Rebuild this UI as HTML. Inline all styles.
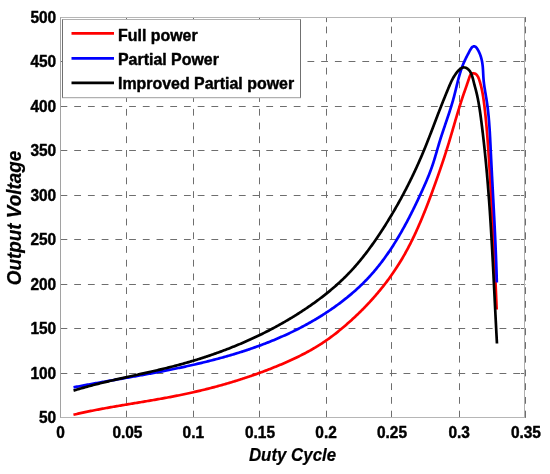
<!DOCTYPE html><html><head><meta charset="utf-8"><style>html,body{margin:0;padding:0;background:#fff;}svg{display:block;}text{font-family:"Liberation Sans",Arial,Helvetica,sans-serif;font-weight:bold;fill:#000;stroke:#000;stroke-width:0.45px;stroke-linejoin:round;}</style></head><body>
<svg width="550" height="474" viewBox="0 0 550 474">
<rect x="0" y="0" width="550" height="474" fill="#fff"/>
<path d="M126.50 417.5 L126.50 17.5 M193.50 417.5 L193.50 17.5 M259.50 417.5 L259.50 17.5 M326.50 417.5 L326.50 17.5 M391.50 417.5 L391.50 17.5 M459.50 417.5 L459.50 17.5 M525.50 417.5 L525.50 17.5 M60.5 373.50 L525.5 373.50 M60.5 328.50 L525.5 328.50 M60.5 284.50 L525.5 284.50 M60.5 239.50 L525.5 239.50 M60.5 195.50 L525.5 195.50 M60.5 150.50 L525.5 150.50 M60.5 106.50 L525.5 106.50 M60.5 61.50 L525.5 61.50" stroke="#6e6e6e" stroke-width="1" stroke-dasharray="6.8 6.92" fill="none"/>
<path d="M60.50 417.5 L60.50 412.85 M60.50 17.5 L60.50 22.15 M126.50 417.5 L126.50 412.85 M126.50 17.5 L126.50 22.15 M193.50 417.5 L193.50 412.85 M193.50 17.5 L193.50 22.15 M259.50 417.5 L259.50 412.85 M259.50 17.5 L259.50 22.15 M326.50 417.5 L326.50 412.85 M326.50 17.5 L326.50 22.15 M391.50 417.5 L391.50 412.85 M391.50 17.5 L391.50 22.15 M459.50 417.5 L459.50 412.85 M459.50 17.5 L459.50 22.15 M525.50 417.5 L525.50 412.85 M525.50 17.5 L525.50 22.15 M60.5 417.50 L65.15 417.50 M525.5 417.50 L520.85 417.50 M60.5 373.50 L65.15 373.50 M525.5 373.50 L520.85 373.50 M60.5 328.50 L65.15 328.50 M525.5 328.50 L520.85 328.50 M60.5 284.50 L65.15 284.50 M525.5 284.50 L520.85 284.50 M60.5 239.50 L65.15 239.50 M525.5 239.50 L520.85 239.50 M60.5 195.50 L65.15 195.50 M525.5 195.50 L520.85 195.50 M60.5 150.50 L65.15 150.50 M525.5 150.50 L520.85 150.50 M60.5 106.50 L65.15 106.50 M525.5 106.50 L520.85 106.50 M60.5 61.50 L65.15 61.50 M525.5 61.50 L520.85 61.50 M60.5 17.50 L65.15 17.50 M525.5 17.50 L520.85 17.50" stroke="#6e6e6e" stroke-width="1" fill="none"/>
<path d="M60.0 17.5 L525.0 17.5 M60.0 417.5 L525.0 417.5" fill="none" stroke="#b6b6b6" stroke-width="1.2"/>
<path d="M60.5 17.5 L60.5 417.5" fill="none" stroke="#a2a2a2" stroke-width="1"/>
<path d="M524.5 17.5 L524.5 417.5" fill="none" stroke="#b0b0b0" stroke-width="1"/>
<path d="M73.45 414.77 L74.61 414.49 L75.78 414.22 L76.94 413.96 L78.11 413.69 L79.28 413.43 L80.45 413.17 L81.62 412.91 L82.79 412.66 L83.96 412.41 L85.13 412.16 L86.30 411.91 L87.47 411.67 L88.64 411.42 L89.81 411.18 L90.99 410.95 L92.16 410.71 L93.33 410.48 L94.51 410.25 L95.68 410.02 L96.85 409.79 L98.03 409.57 L99.21 409.34 L100.38 409.12 L101.56 408.90 L102.73 408.68 L103.91 408.47 L105.09 408.25 L106.27 408.04 L107.44 407.82 L108.62 407.61 L109.80 407.40 L110.98 407.19 L112.16 406.99 L113.33 406.78 L114.51 406.57 L115.69 406.37 L116.87 406.17 L118.05 405.96 L119.23 405.76 L120.41 405.56 L121.59 405.36 L122.77 405.16 L123.95 404.96 L125.13 404.77 L126.31 404.57 L127.50 404.37 L128.68 404.17 L129.86 403.98 L131.04 403.78 L132.22 403.58 L133.40 403.39 L134.58 403.19 L135.76 403.00 L136.94 402.80 L138.12 402.60 L139.31 402.41 L140.49 402.21 L141.67 402.01 L142.85 401.82 L144.03 401.62 L145.21 401.42 L146.39 401.22 L147.57 401.02 L148.75 400.82 L149.93 400.62 L151.11 400.42 L152.29 400.22 L153.47 400.02 L154.65 399.81 L155.83 399.61 L157.01 399.40 L158.19 399.19 L159.37 398.99 L160.55 398.78 L161.73 398.57 L162.91 398.36 L164.08 398.14 L165.26 397.93 L166.44 397.71 L167.62 397.49 L168.79 397.27 L169.97 397.05 L171.15 396.83 L172.32 396.61 L173.50 396.38 L174.67 396.15 L175.85 395.92 L177.02 395.69 L178.20 395.46 L179.37 395.22 L180.54 394.98 L181.72 394.74 L182.89 394.50 L184.06 394.25 L185.23 394.01 L186.41 393.76 L187.58 393.50 L188.75 393.25 L189.92 392.99 L191.08 392.73 L192.25 392.47 L193.42 392.21 L194.59 391.94 L195.76 391.68 L196.92 391.41 L198.09 391.13 L199.26 390.86 L200.42 390.58 L201.59 390.30 L202.75 390.02 L203.91 389.73 L205.08 389.45 L206.24 389.16 L207.40 388.87 L208.56 388.57 L209.72 388.28 L210.88 387.98 L212.04 387.68 L213.20 387.37 L214.36 387.07 L215.51 386.76 L216.67 386.45 L217.83 386.13 L218.98 385.82 L220.14 385.50 L221.29 385.18 L222.44 384.85 L223.60 384.53 L224.75 384.20 L225.90 383.87 L227.05 383.53 L228.20 383.20 L229.35 382.86 L230.50 382.52 L231.64 382.17 L232.79 381.83 L233.94 381.48 L235.08 381.13 L236.23 380.77 L237.37 380.42 L238.51 380.06 L239.65 379.69 L240.80 379.33 L241.94 378.96 L243.08 378.59 L244.21 378.22 L245.35 377.84 L246.49 377.47 L247.63 377.09 L248.76 376.70 L249.89 376.32 L251.03 375.93 L252.16 375.54 L253.29 375.14 L254.42 374.74 L255.55 374.35 L256.68 373.94 L257.81 373.54 L258.94 373.13 L260.06 372.72 L261.19 372.31 L262.31 371.89 L263.44 371.47 L264.56 371.05 L265.68 370.62 L266.80 370.20 L267.92 369.77 L269.04 369.33 L270.15 368.90 L271.27 368.46 L272.38 368.02 L273.50 367.57 L274.61 367.12 L275.72 366.67 L276.83 366.22 L277.94 365.76 L279.05 365.31 L280.16 364.84 L281.27 364.38 L282.37 363.91 L283.48 363.44 L284.58 362.96 L285.68 362.48 L286.78 362.00 L287.87 361.52 L288.97 361.03 L290.06 360.53 L291.15 360.04 L292.24 359.53 L293.33 359.03 L294.42 358.52 L295.50 358.01 L296.58 357.49 L297.66 356.97 L298.74 356.44 L299.81 355.91 L300.88 355.37 L301.95 354.83 L303.01 354.28 L304.08 353.73 L305.14 353.18 L306.19 352.62 L307.25 352.05 L308.30 351.48 L309.35 350.91 L310.39 350.32 L311.43 349.74 L312.47 349.14 L313.51 348.54 L314.54 347.94 L315.57 347.33 L316.59 346.71 L317.61 346.09 L318.63 345.46 L319.64 344.83 L320.65 344.19 L321.65 343.54 L322.65 342.89 L323.65 342.23 L324.64 341.56 L325.63 340.89 L326.61 340.21 L327.59 339.52 L328.57 338.83 L329.54 338.13 L330.51 337.42 L331.47 336.71 L332.43 336.00 L333.38 335.27 L334.33 334.54 L335.28 333.81 L336.22 333.07 L337.16 332.33 L338.09 331.58 L339.02 330.82 L339.95 330.07 L340.87 329.30 L341.79 328.54 L342.71 327.77 L343.62 326.99 L344.53 326.22 L345.44 325.44 L346.34 324.65 L347.24 323.86 L348.13 323.07 L349.03 322.28 L349.92 321.49 L350.80 320.69 L351.68 319.89 L352.56 319.08 L353.44 318.27 L354.31 317.47 L355.18 316.65 L356.05 315.84 L356.91 315.02 L357.77 314.19 L358.63 313.37 L359.48 312.54 L360.33 311.70 L361.18 310.87 L362.02 310.03 L362.86 309.18 L363.70 308.34 L364.54 307.48 L365.37 306.63 L366.19 305.77 L367.02 304.91 L367.84 304.04 L368.66 303.17 L369.47 302.29 L370.28 301.41 L371.09 300.53 L371.89 299.64 L372.69 298.75 L373.49 297.85 L374.28 296.95 L375.07 296.05 L375.86 295.14 L376.64 294.23 L377.41 293.32 L378.19 292.40 L378.96 291.48 L379.72 290.55 L380.48 289.62 L381.24 288.69 L381.99 287.76 L382.74 286.82 L383.49 285.87 L384.23 284.93 L384.96 283.98 L385.70 283.02 L386.42 282.07 L387.15 281.11 L387.86 280.15 L388.58 279.18 L389.29 278.21 L389.99 277.24 L390.69 276.26 L391.38 275.28 L392.07 274.30 L392.76 273.31 L393.44 272.33 L394.11 271.34 L394.78 270.34 L395.45 269.34 L396.11 268.34 L396.76 267.34 L397.41 266.34 L398.05 265.33 L398.69 264.32 L399.32 263.30 L399.95 262.29 L400.57 261.27 L401.19 260.24 L401.80 259.22 L402.41 258.19 L403.01 257.16 L403.60 256.13 L404.19 255.09 L404.78 254.06 L405.36 253.02 L405.93 251.97 L406.51 250.93 L407.07 249.88 L407.63 248.83 L408.19 247.78 L408.74 246.72 L409.29 245.67 L409.84 244.61 L410.38 243.55 L410.91 242.48 L411.44 241.42 L411.97 240.35 L412.50 239.28 L413.02 238.20 L413.53 237.13 L414.05 236.05 L414.56 234.97 L415.06 233.89 L415.56 232.81 L416.06 231.72 L416.56 230.63 L417.05 229.54 L417.54 228.45 L418.03 227.36 L418.51 226.26 L418.99 225.16 L419.47 224.06 L419.94 222.96 L420.42 221.86 L420.89 220.76 L421.35 219.65 L421.82 218.54 L422.28 217.43 L422.74 216.32 L423.19 215.21 L423.65 214.10 L424.10 212.98 L424.55 211.87 L424.99 210.75 L425.44 209.63 L425.88 208.52 L426.32 207.40 L426.76 206.28 L427.19 205.16 L427.63 204.03 L428.06 202.91 L428.49 201.79 L428.92 200.66 L429.34 199.54 L429.77 198.41 L430.19 197.29 L430.61 196.16 L431.03 195.04 L431.45 193.91 L431.86 192.79 L432.28 191.66 L432.69 190.53 L433.10 189.41 L433.51 188.28 L433.92 187.15 L434.33 186.03 L434.73 184.90 L435.14 183.78 L435.54 182.65 L435.94 181.52 L436.34 180.40 L436.74 179.27 L437.14 178.15 L437.54 177.02 L437.93 175.90 L438.33 174.77 L438.72 173.64 L439.11 172.52 L439.50 171.39 L439.89 170.26 L440.28 169.14 L440.66 168.01 L441.05 166.88 L441.43 165.75 L441.81 164.62 L442.19 163.50 L442.57 162.37 L442.95 161.24 L443.32 160.10 L443.69 158.97 L444.07 157.84 L444.44 156.71 L444.81 155.57 L445.17 154.44 L445.54 153.30 L445.90 152.17 L446.27 151.03 L446.63 149.89 L446.99 148.75 L447.34 147.61 L447.70 146.47 L448.05 145.33 L448.41 144.18 L448.76 143.04 L449.10 141.89 L449.45 140.74 L449.80 139.59 L450.14 138.45 L450.48 137.29 L450.83 136.14 L451.17 134.99 L451.51 133.84 L451.84 132.68 L452.18 131.53 L452.52 130.38 L452.86 129.22 L453.19 128.07 L453.53 126.91 L453.86 125.76 L454.20 124.61 L454.53 123.45 L454.87 122.30 L455.21 121.15 L455.54 119.99 L455.88 118.84 L456.22 117.69 L456.56 116.54 L456.90 115.39 L457.24 114.25 L457.58 113.10 L457.93 111.96 L458.27 110.81 L458.62 109.67 L458.97 108.53 L459.32 107.40 L459.67 106.26 L460.02 105.13 L460.38 104.00 L460.74 102.87 L461.10 101.74 L461.46 100.61 L461.83 99.49 L462.20 98.37 L462.57 97.26 L462.95 96.14 L463.33 95.03 L463.71 93.92 L464.09 92.81 L464.47 91.70 L464.86 90.58 L465.25 89.47 L465.64 88.34 L466.04 87.22 L466.43 86.08 L466.82 84.95 L467.22 83.80 L467.62 82.64 L468.01 81.47 L468.41 80.30 L468.81 79.11 L469.21 77.91 L469.62 76.70 L470.10 75.57 L470.73 74.58 L471.55 73.83 L472.53 73.36 L473.59 73.22 L474.68 73.46 L475.72 74.02 L476.65 74.82 L477.43 75.81 L478.08 76.92 L478.61 78.11 L479.07 79.34 L479.48 80.56 L479.85 81.74 L480.19 82.89 L480.51 84.03 L480.81 85.15 L481.09 86.27 L481.36 87.39 L481.62 88.52 L481.86 89.66 L482.10 90.81 L482.32 91.96 L482.54 93.12 L482.75 94.29 L482.94 95.46 L483.13 96.63 L483.32 97.81 L483.49 98.99 L483.66 100.18 L483.82 101.37 L483.98 102.56 L484.13 103.75 L484.28 104.95 L484.43 106.14 L484.57 107.34 L484.71 108.53 L484.84 109.73 L484.98 110.93 L485.11 112.12 L485.24 113.32 L485.36 114.52 L485.49 115.71 L485.61 116.91 L485.73 118.10 L485.85 119.30 L485.96 120.49 L486.08 121.69 L486.19 122.88 L486.30 124.08 L486.41 125.27 L486.52 126.47 L486.62 127.66 L486.73 128.86 L486.83 130.05 L486.93 131.25 L487.03 132.44 L487.12 133.64 L487.22 134.83 L487.32 136.03 L487.41 137.22 L487.50 138.41 L487.59 139.61 L487.68 140.80 L487.77 142.00 L487.86 143.19 L487.94 144.39 L488.03 145.58 L488.11 146.77 L488.20 147.97 L488.28 149.16 L488.36 150.36 L488.44 151.55 L488.52 152.75 L488.60 153.94 L488.68 155.14 L488.76 156.33 L488.84 157.52 L488.91 158.72 L488.99 159.91 L489.07 161.11 L489.14 162.30 L489.22 163.50 L489.29 164.69 L489.37 165.89 L489.44 167.08 L489.52 168.28 L489.59 169.47 L489.67 170.67 L489.74 171.86 L489.81 173.06 L489.89 174.25 L489.96 175.45 L490.03 176.64 L490.10 177.84 L490.18 179.04 L490.25 180.23 L490.32 181.43 L490.39 182.62 L490.46 183.82 L490.53 185.01 L490.60 186.21 L490.67 187.41 L490.75 188.60 L490.81 189.80 L490.88 190.99 L490.95 192.19 L491.02 193.39 L491.09 194.58 L491.16 195.78 L491.23 196.98 L491.30 198.17 L491.37 199.37 L491.43 200.56 L491.50 201.76 L491.57 202.96 L491.63 204.15 L491.70 205.35 L491.77 206.55 L491.83 207.74 L491.90 208.94 L491.97 210.14 L492.03 211.33 L492.10 212.53 L492.16 213.73 L492.23 214.93 L492.29 216.12 L492.35 217.32 L492.42 218.52 L492.48 219.71 L492.55 220.91 L492.61 222.11 L492.67 223.30 L492.74 224.50 L492.80 225.70 L492.86 226.90 L492.92 228.09 L492.98 229.29 L493.05 230.49 L493.11 231.68 L493.17 232.88 L493.23 234.08 L493.29 235.28 L493.35 236.47 L493.41 237.67 L493.47 238.87 L493.53 240.06 L493.59 241.26 L493.65 242.46 L493.71 243.66 L493.77 244.85 L493.83 246.05 L493.89 247.25 L493.95 248.45 L494.00 249.64 L494.06 250.84 L494.12 252.04 L494.18 253.24 L494.24 254.43 L494.29 255.63 L494.35 256.83 L494.41 258.02 L494.46 259.22 L494.52 260.42 L494.58 261.62 L494.63 262.81 L494.69 264.01 L494.74 265.21 L494.80 266.41 L494.85 267.60 L494.91 268.80 L494.96 270.00 L495.02 271.19 L495.07 272.39 L495.13 273.59 L495.18 274.79 L495.23 275.98 L495.29 277.18 L495.34 278.38 L495.39 279.57 L495.45 280.77 L495.50 281.97 L495.55 283.16 L495.60 284.36 L495.66 285.56 L495.71 286.76 L495.76 287.95 L495.81 289.15 L495.86 290.35 L495.91 291.54 L495.97 292.74 L496.02 293.94 L496.07 295.13 L496.12 296.33 L496.17 297.53 L496.22 298.72 L496.27 299.92 L496.32 301.11 L496.37 302.31 L496.42 303.51 L496.47 304.70 L496.51 305.90 L496.56 307.10 L496.61 308.29 L496.66 309.49" stroke="#ff0000" stroke-width="2.7" fill="none" stroke-linejoin="round" stroke-linecap="butt"/>
<path d="M73.53 387.37 L74.71 387.14 L75.89 386.92 L77.07 386.69 L78.25 386.46 L79.43 386.24 L80.61 386.02 L81.79 385.79 L82.97 385.57 L84.15 385.35 L85.33 385.13 L86.51 384.91 L87.69 384.70 L88.86 384.48 L90.04 384.26 L91.22 384.05 L92.40 383.83 L93.58 383.62 L94.76 383.40 L95.94 383.19 L97.12 382.98 L98.30 382.77 L99.48 382.56 L100.66 382.35 L101.84 382.13 L103.02 381.93 L104.20 381.72 L105.38 381.51 L106.56 381.30 L107.74 381.09 L108.92 380.88 L110.10 380.67 L111.28 380.47 L112.46 380.26 L113.64 380.05 L114.82 379.85 L116.00 379.64 L117.17 379.43 L118.35 379.23 L119.53 379.02 L120.71 378.81 L121.89 378.60 L123.07 378.40 L124.25 378.19 L125.43 377.98 L126.61 377.78 L127.78 377.57 L128.96 377.36 L130.14 377.15 L131.32 376.95 L132.50 376.74 L133.68 376.53 L134.85 376.32 L136.03 376.11 L137.21 375.90 L138.39 375.69 L139.57 375.48 L140.74 375.27 L141.92 375.06 L143.10 374.84 L144.27 374.63 L145.45 374.42 L146.63 374.20 L147.81 373.99 L148.98 373.77 L150.16 373.56 L151.33 373.34 L152.51 373.12 L153.69 372.90 L154.86 372.68 L156.04 372.46 L157.21 372.24 L158.39 372.02 L159.57 371.79 L160.74 371.57 L161.92 371.34 L163.09 371.12 L164.26 370.89 L165.44 370.66 L166.61 370.43 L167.79 370.20 L168.96 369.96 L170.13 369.73 L171.31 369.49 L172.48 369.26 L173.65 369.02 L174.83 368.78 L176.00 368.54 L177.17 368.30 L178.34 368.05 L179.52 367.81 L180.69 367.56 L181.86 367.31 L183.03 367.06 L184.20 366.81 L185.37 366.56 L186.54 366.30 L187.71 366.05 L188.89 365.79 L190.06 365.53 L191.22 365.27 L192.39 365.00 L193.56 364.74 L194.73 364.47 L195.90 364.20 L197.07 363.93 L198.24 363.66 L199.40 363.38 L200.57 363.10 L201.74 362.83 L202.90 362.54 L204.07 362.26 L205.24 361.98 L206.40 361.69 L207.57 361.40 L208.73 361.11 L209.89 360.81 L211.06 360.52 L212.22 360.22 L213.38 359.92 L214.54 359.61 L215.70 359.31 L216.86 359.00 L218.02 358.69 L219.18 358.38 L220.34 358.06 L221.49 357.75 L222.65 357.43 L223.81 357.10 L224.96 356.78 L226.11 356.45 L227.27 356.12 L228.42 355.79 L229.57 355.46 L230.72 355.12 L231.87 354.78 L233.02 354.44 L234.17 354.09 L235.32 353.74 L236.46 353.39 L237.61 353.04 L238.75 352.68 L239.90 352.32 L241.04 351.96 L242.18 351.60 L243.32 351.23 L244.46 350.86 L245.60 350.49 L246.73 350.11 L247.87 349.73 L249.00 349.35 L250.14 348.96 L251.27 348.58 L252.40 348.18 L253.53 347.79 L254.66 347.39 L255.79 346.99 L256.91 346.59 L258.04 346.18 L259.16 345.77 L260.28 345.36 L261.40 344.94 L262.52 344.52 L263.64 344.10 L264.76 343.67 L265.87 343.24 L266.99 342.81 L268.10 342.37 L269.21 341.93 L270.32 341.49 L271.43 341.04 L272.53 340.59 L273.64 340.14 L274.74 339.68 L275.84 339.22 L276.94 338.76 L278.04 338.29 L279.14 337.82 L280.23 337.34 L281.32 336.86 L282.42 336.38 L283.51 335.89 L284.59 335.40 L285.68 334.91 L286.77 334.41 L287.85 333.91 L288.93 333.41 L290.01 332.90 L291.09 332.39 L292.16 331.87 L293.24 331.35 L294.31 330.82 L295.38 330.29 L296.45 329.76 L297.51 329.23 L298.58 328.69 L299.64 328.14 L300.70 327.59 L301.76 327.04 L302.81 326.48 L303.87 325.92 L304.92 325.36 L305.97 324.79 L307.02 324.21 L308.06 323.64 L309.11 323.05 L310.15 322.47 L311.19 321.88 L312.23 321.28 L313.26 320.68 L314.29 320.08 L315.32 319.47 L316.35 318.86 L317.38 318.24 L318.40 317.62 L319.42 316.99 L320.44 316.36 L321.45 315.73 L322.47 315.09 L323.48 314.45 L324.48 313.80 L325.49 313.15 L326.49 312.49 L327.49 311.83 L328.49 311.17 L329.48 310.50 L330.48 309.82 L331.46 309.15 L332.45 308.46 L333.43 307.78 L334.41 307.08 L335.39 306.39 L336.36 305.69 L337.34 304.98 L338.30 304.27 L339.27 303.56 L340.23 302.84 L341.19 302.12 L342.14 301.39 L343.10 300.66 L344.04 299.92 L344.99 299.18 L345.93 298.43 L346.86 297.68 L347.80 296.93 L348.73 296.17 L349.65 295.40 L350.57 294.63 L351.49 293.86 L352.40 293.08 L353.31 292.30 L354.21 291.51 L355.11 290.71 L356.00 289.92 L356.89 289.11 L357.77 288.31 L358.65 287.49 L359.53 286.68 L360.40 285.85 L361.26 285.03 L362.12 284.19 L362.97 283.36 L363.82 282.51 L364.66 281.67 L365.50 280.81 L366.33 279.96 L367.16 279.10 L367.97 278.23 L368.79 277.36 L369.60 276.48 L370.40 275.60 L371.20 274.71 L371.99 273.82 L372.77 272.92 L373.55 272.02 L374.33 271.12 L375.10 270.21 L375.86 269.29 L376.62 268.37 L377.37 267.45 L378.12 266.52 L378.86 265.59 L379.60 264.65 L380.33 263.71 L381.06 262.77 L381.79 261.82 L382.50 260.87 L383.22 259.91 L383.93 258.95 L384.63 257.99 L385.33 257.02 L386.02 256.05 L386.71 255.08 L387.40 254.10 L388.08 253.12 L388.75 252.13 L389.43 251.14 L390.09 250.15 L390.76 249.16 L391.42 248.16 L392.07 247.16 L392.72 246.15 L393.37 245.15 L394.01 244.14 L394.65 243.12 L395.28 242.11 L395.91 241.09 L396.54 240.07 L397.16 239.04 L397.78 238.01 L398.39 236.98 L399.00 235.95 L399.61 234.92 L400.22 233.88 L400.82 232.84 L401.41 231.80 L402.01 230.76 L402.60 229.71 L403.18 228.66 L403.77 227.61 L404.35 226.56 L404.92 225.51 L405.50 224.45 L406.07 223.39 L406.63 222.33 L407.20 221.27 L407.76 220.21 L408.32 219.14 L408.87 218.08 L409.42 217.01 L409.97 215.94 L410.52 214.87 L411.07 213.80 L411.61 212.72 L412.15 211.65 L412.68 210.57 L413.22 209.50 L413.75 208.42 L414.28 207.34 L414.80 206.26 L415.33 205.18 L415.85 204.10 L416.37 203.02 L416.89 201.93 L417.40 200.85 L417.92 199.77 L418.43 198.68 L418.94 197.60 L419.44 196.51 L419.95 195.43 L420.45 194.34 L420.95 193.26 L421.45 192.17 L421.95 191.08 L422.45 190.00 L422.94 188.91 L423.43 187.82 L423.92 186.73 L424.40 185.64 L424.89 184.55 L425.36 183.46 L425.84 182.36 L426.31 181.27 L426.77 180.17 L427.23 179.07 L427.69 177.97 L428.14 176.87 L428.59 175.77 L429.03 174.66 L429.46 173.56 L429.89 172.45 L430.32 171.33 L430.73 170.22 L431.14 169.10 L431.55 167.98 L431.94 166.86 L432.33 165.73 L432.72 164.60 L433.09 163.47 L433.46 162.33 L433.82 161.20 L434.18 160.06 L434.53 158.91 L434.88 157.77 L435.22 156.62 L435.56 155.48 L435.90 154.33 L436.24 153.18 L436.57 152.03 L436.90 150.88 L437.24 149.73 L437.57 148.58 L437.91 147.43 L438.24 146.28 L438.58 145.13 L438.92 143.99 L439.26 142.84 L439.61 141.70 L439.96 140.55 L440.32 139.41 L440.68 138.27 L441.04 137.14 L441.41 136.00 L441.78 134.86 L442.15 133.73 L442.53 132.60 L442.90 131.46 L443.28 130.33 L443.66 129.20 L444.04 128.07 L444.43 126.94 L444.81 125.81 L445.19 124.68 L445.58 123.55 L445.96 122.42 L446.35 121.29 L446.73 120.16 L447.11 119.03 L447.49 117.90 L447.87 116.76 L448.25 115.63 L448.62 114.50 L449.00 113.36 L449.37 112.22 L449.74 111.09 L450.10 109.95 L450.46 108.81 L450.82 107.66 L451.18 106.52 L451.53 105.37 L451.87 104.22 L452.21 103.07 L452.55 101.92 L452.88 100.77 L453.20 99.61 L453.52 98.45 L453.84 97.29 L454.14 96.12 L454.45 94.95 L454.74 93.78 L455.04 92.61 L455.33 91.44 L455.61 90.27 L455.90 89.09 L456.18 87.92 L456.47 86.75 L456.75 85.58 L457.04 84.41 L457.33 83.24 L457.62 82.07 L457.91 80.91 L458.21 79.75 L458.51 78.59 L458.82 77.44 L459.14 76.29 L459.46 75.15 L459.79 74.01 L460.13 72.88 L460.48 71.75 L460.84 70.63 L461.20 69.52 L461.59 68.41 L461.98 67.32 L462.38 66.23 L462.80 65.14 L463.24 64.07 L463.69 63.00 L464.15 61.94 L464.63 60.88 L465.12 59.82 L465.64 58.75 L466.16 57.67 L466.70 56.59 L467.26 55.50 L467.84 54.39 L468.43 53.26 L469.04 52.11 L469.67 50.94 L470.32 49.76 L471.00 48.62 L471.75 47.62 L472.58 46.86 L473.47 46.41 L474.39 46.33 L475.29 46.65 L476.12 47.31 L476.86 48.22 L477.54 49.27 L478.16 50.35 L478.74 51.45 L479.28 52.57 L479.77 53.70 L480.22 54.83 L480.62 55.98 L480.99 57.14 L481.32 58.30 L481.61 59.46 L481.87 60.63 L482.09 61.80 L482.29 62.96 L482.46 64.13 L482.60 65.30 L482.72 66.47 L482.83 67.64 L482.92 68.81 L483.00 69.98 L483.07 71.15 L483.13 72.33 L483.19 73.50 L483.25 74.68 L483.31 75.85 L483.38 77.03 L483.46 78.20 L483.55 79.38 L483.65 80.56 L483.77 81.74 L483.91 82.92 L484.05 84.10 L484.21 85.28 L484.38 86.47 L484.55 87.65 L484.74 88.83 L484.93 90.02 L485.12 91.20 L485.32 92.39 L485.52 93.57 L485.72 94.76 L485.92 95.95 L486.12 97.14 L486.32 98.32 L486.51 99.51 L486.69 100.70 L486.87 101.89 L487.05 103.08 L487.21 104.27 L487.37 105.46 L487.53 106.65 L487.68 107.84 L487.82 109.03 L487.96 110.22 L488.10 111.41 L488.23 112.61 L488.35 113.80 L488.47 114.99 L488.59 116.18 L488.70 117.38 L488.81 118.57 L488.91 119.76 L489.01 120.96 L489.11 122.15 L489.20 123.34 L489.29 124.54 L489.37 125.73 L489.46 126.93 L489.54 128.12 L489.62 129.31 L489.69 130.51 L489.76 131.70 L489.84 132.90 L489.90 134.10 L489.97 135.29 L490.04 136.49 L490.10 137.68 L490.16 138.88 L490.22 140.07 L490.28 141.27 L490.34 142.47 L490.40 143.66 L490.46 144.86 L490.52 146.05 L490.57 147.25 L490.63 148.45 L490.69 149.64 L490.75 150.84 L490.80 152.04 L490.86 153.23 L490.92 154.43 L490.98 155.62 L491.04 156.82 L491.10 158.02 L491.16 159.21 L491.22 160.41 L491.28 161.61 L491.34 162.80 L491.40 164.00 L491.46 165.20 L491.52 166.39 L491.58 167.59 L491.64 168.79 L491.70 169.98 L491.77 171.18 L491.83 172.37 L491.89 173.57 L491.95 174.77 L492.01 175.96 L492.08 177.16 L492.14 178.36 L492.20 179.55 L492.27 180.75 L492.33 181.95 L492.39 183.14 L492.46 184.34 L492.52 185.54 L492.58 186.73 L492.65 187.93 L492.71 189.13 L492.77 190.32 L492.84 191.52 L492.90 192.72 L492.96 193.91 L493.02 195.11 L493.09 196.31 L493.15 197.50 L493.21 198.70 L493.28 199.90 L493.34 201.09 L493.40 202.29 L493.47 203.49 L493.53 204.68 L493.59 205.88 L493.65 207.08 L493.72 208.28 L493.78 209.47 L493.84 210.67 L493.90 211.87 L493.96 213.06 L494.02 214.26 L494.08 215.46 L494.15 216.65 L494.21 217.85 L494.27 219.05 L494.33 220.24 L494.39 221.44 L494.45 222.64 L494.51 223.84 L494.56 225.03 L494.62 226.23 L494.68 227.43 L494.74 228.62 L494.80 229.82 L494.85 231.02 L494.91 232.21 L494.97 233.41 L495.02 234.61 L495.08 235.81 L495.13 237.00 L495.19 238.20 L495.24 239.40 L495.30 240.59 L495.35 241.79 L495.40 242.99 L495.46 244.18 L495.51 245.38 L495.56 246.58 L495.61 247.78 L495.66 248.97 L495.71 250.17 L495.76 251.37 L495.81 252.56 L495.86 253.76 L495.91 254.96 L495.96 256.16 L496.00 257.35 L496.05 258.55 L496.09 259.75 L496.14 260.95 L496.18 262.14 L496.23 263.34 L496.27 264.54 L496.31 265.73 L496.35 266.93 L496.40 268.13 L496.44 269.33 L496.48 270.52 L496.51 271.72 L496.55 272.92 L496.59 274.12 L496.63 275.31 L496.66 276.51 L496.70 277.71 L496.73 278.90 L496.77 280.10 L496.80 281.30 L496.83 282.50" stroke="#0000ff" stroke-width="2.7" fill="none" stroke-linejoin="round" stroke-linecap="butt"/>
<path d="M73.55 390.62 L74.69 390.27 L75.84 389.92 L76.99 389.58 L78.14 389.24 L79.29 388.90 L80.45 388.56 L81.60 388.23 L82.75 387.90 L83.91 387.58 L85.06 387.25 L86.22 386.93 L87.37 386.62 L88.53 386.30 L89.69 385.99 L90.85 385.68 L92.01 385.38 L93.17 385.07 L94.33 384.77 L95.49 384.47 L96.65 384.18 L97.81 383.88 L98.98 383.59 L100.14 383.30 L101.30 383.01 L102.47 382.73 L103.63 382.44 L104.80 382.16 L105.96 381.88 L107.13 381.60 L108.30 381.32 L109.46 381.05 L110.63 380.77 L111.80 380.50 L112.97 380.23 L114.13 379.96 L115.30 379.69 L116.47 379.42 L117.64 379.15 L118.81 378.89 L119.98 378.62 L121.15 378.36 L122.32 378.09 L123.49 377.83 L124.66 377.57 L125.83 377.31 L127.00 377.04 L128.17 376.78 L129.34 376.52 L130.51 376.26 L131.68 376.00 L132.85 375.74 L134.03 375.48 L135.20 375.22 L136.37 374.96 L137.54 374.70 L138.71 374.44 L139.88 374.18 L141.05 373.92 L142.22 373.66 L143.39 373.40 L144.56 373.14 L145.73 372.87 L146.90 372.61 L148.07 372.34 L149.24 372.08 L150.41 371.81 L151.58 371.55 L152.75 371.28 L153.92 371.01 L155.09 370.74 L156.26 370.47 L157.42 370.19 L158.59 369.92 L159.76 369.64 L160.92 369.37 L162.09 369.09 L163.26 368.81 L164.42 368.53 L165.59 368.24 L166.75 367.96 L167.92 367.67 L169.08 367.38 L170.24 367.09 L171.40 366.79 L172.57 366.50 L173.73 366.20 L174.89 365.90 L176.05 365.59 L177.21 365.29 L178.37 364.98 L179.53 364.67 L180.68 364.35 L181.84 364.04 L183.00 363.72 L184.15 363.40 L185.31 363.07 L186.46 362.75 L187.61 362.42 L188.77 362.08 L189.92 361.75 L191.07 361.41 L192.22 361.07 L193.37 360.72 L194.52 360.38 L195.67 360.03 L196.81 359.67 L197.96 359.32 L199.10 358.96 L200.25 358.60 L201.39 358.24 L202.53 357.87 L203.68 357.50 L204.82 357.13 L205.96 356.75 L207.09 356.37 L208.23 355.99 L209.37 355.61 L210.50 355.22 L211.64 354.83 L212.77 354.44 L213.91 354.04 L215.04 353.65 L216.17 353.25 L217.30 352.84 L218.43 352.43 L219.55 352.02 L220.68 351.61 L221.80 351.19 L222.93 350.78 L224.05 350.35 L225.17 349.93 L226.29 349.50 L227.41 349.07 L228.53 348.64 L229.65 348.20 L230.76 347.76 L231.88 347.32 L232.99 346.87 L234.10 346.42 L235.21 345.97 L236.32 345.52 L237.43 345.06 L238.54 344.60 L239.64 344.13 L240.75 343.67 L241.85 343.20 L242.95 342.72 L244.05 342.25 L245.15 341.77 L246.25 341.28 L247.34 340.80 L248.44 340.31 L249.53 339.82 L250.62 339.32 L251.71 338.83 L252.80 338.33 L253.89 337.82 L254.97 337.31 L256.06 336.80 L257.14 336.29 L258.22 335.77 L259.30 335.25 L260.38 334.73 L261.46 334.20 L262.53 333.67 L263.60 333.14 L264.67 332.61 L265.75 332.07 L266.81 331.53 L267.88 330.98 L268.95 330.43 L270.01 329.88 L271.07 329.32 L272.13 328.77 L273.19 328.21 L274.25 327.64 L275.30 327.07 L276.35 326.50 L277.40 325.93 L278.45 325.35 L279.50 324.77 L280.55 324.18 L281.59 323.60 L282.64 323.01 L283.68 322.41 L284.71 321.82 L285.75 321.21 L286.79 320.61 L287.82 320.00 L288.85 319.39 L289.88 318.78 L290.91 318.16 L291.93 317.54 L292.96 316.92 L293.98 316.29 L295.00 315.66 L296.02 315.03 L297.03 314.39 L298.05 313.75 L299.06 313.10 L300.07 312.46 L301.07 311.80 L302.08 311.15 L303.08 310.49 L304.08 309.83 L305.08 309.17 L306.08 308.50 L307.08 307.83 L308.07 307.15 L309.06 306.47 L310.05 305.79 L311.03 305.11 L312.01 304.42 L312.99 303.72 L313.97 303.03 L314.95 302.33 L315.92 301.62 L316.89 300.91 L317.85 300.20 L318.81 299.49 L319.77 298.77 L320.73 298.04 L321.69 297.31 L322.64 296.58 L323.58 295.85 L324.53 295.11 L325.47 294.37 L326.41 293.62 L327.34 292.87 L328.27 292.11 L329.20 291.35 L330.12 290.59 L331.04 289.82 L331.96 289.05 L332.87 288.27 L333.78 287.49 L334.68 286.71 L335.58 285.92 L336.48 285.12 L337.37 284.33 L338.25 283.52 L339.14 282.72 L340.02 281.91 L340.89 281.09 L341.76 280.27 L342.63 279.44 L343.49 278.62 L344.35 277.78 L345.20 276.94 L346.05 276.10 L346.89 275.25 L347.73 274.40 L348.56 273.54 L349.39 272.68 L350.21 271.81 L351.03 270.94 L351.85 270.07 L352.65 269.19 L353.46 268.30 L354.26 267.41 L355.05 266.51 L355.84 265.62 L356.62 264.71 L357.40 263.80 L358.18 262.89 L358.95 261.98 L359.72 261.06 L360.48 260.13 L361.24 259.21 L361.99 258.27 L362.74 257.34 L363.48 256.40 L364.22 255.46 L364.96 254.51 L365.69 253.56 L366.42 252.61 L367.15 251.65 L367.87 250.70 L368.59 249.73 L369.30 248.77 L370.01 247.80 L370.71 246.83 L371.42 245.86 L372.12 244.88 L372.81 243.90 L373.51 242.92 L374.19 241.94 L374.88 240.95 L375.56 239.96 L376.24 238.97 L376.92 237.98 L377.59 236.98 L378.26 235.99 L378.93 234.99 L379.60 233.99 L380.26 232.99 L380.92 231.98 L381.57 230.98 L382.23 229.97 L382.88 228.96 L383.53 227.95 L384.18 226.94 L384.82 225.93 L385.46 224.91 L386.10 223.89 L386.73 222.88 L387.37 221.86 L388.00 220.84 L388.63 219.82 L389.25 218.79 L389.88 217.77 L390.50 216.74 L391.11 215.71 L391.73 214.69 L392.34 213.66 L392.95 212.62 L393.56 211.59 L394.16 210.56 L394.77 209.52 L395.36 208.48 L395.96 207.44 L396.56 206.40 L397.15 205.36 L397.74 204.32 L398.32 203.27 L398.91 202.23 L399.49 201.18 L400.07 200.13 L400.64 199.08 L401.22 198.03 L401.79 196.98 L402.36 195.92 L402.92 194.87 L403.49 193.81 L404.05 192.75 L404.61 191.69 L405.16 190.63 L405.71 189.57 L406.26 188.51 L406.81 187.44 L407.36 186.38 L407.90 185.31 L408.44 184.24 L408.98 183.17 L409.51 182.10 L410.04 181.03 L410.57 179.95 L411.10 178.88 L411.63 177.80 L412.15 176.72 L412.67 175.64 L413.18 174.56 L413.70 173.48 L414.21 172.40 L414.72 171.32 L415.22 170.23 L415.73 169.14 L416.23 168.06 L416.73 166.97 L417.22 165.88 L417.72 164.79 L418.21 163.69 L418.70 162.60 L419.18 161.50 L419.67 160.41 L420.15 159.31 L420.62 158.21 L421.10 157.11 L421.57 156.01 L422.04 154.91 L422.51 153.80 L422.97 152.70 L423.44 151.59 L423.90 150.49 L424.35 149.38 L424.81 148.27 L425.26 147.16 L425.71 146.05 L426.16 144.94 L426.61 143.82 L427.05 142.71 L427.49 141.59 L427.93 140.48 L428.37 139.36 L428.81 138.24 L429.24 137.13 L429.68 136.01 L430.11 134.89 L430.54 133.77 L430.97 132.65 L431.40 131.53 L431.83 130.41 L432.26 129.29 L432.69 128.17 L433.12 127.05 L433.54 125.93 L433.97 124.81 L434.40 123.69 L434.82 122.56 L435.25 121.44 L435.68 120.32 L436.10 119.20 L436.53 118.08 L436.96 116.96 L437.39 115.84 L437.81 114.72 L438.24 113.61 L438.67 112.49 L439.11 111.37 L439.54 110.25 L439.97 109.14 L440.41 108.02 L440.84 106.91 L441.28 105.79 L441.72 104.68 L442.16 103.57 L442.60 102.46 L443.05 101.35 L443.49 100.24 L443.94 99.13 L444.39 98.02 L444.83 96.91 L445.28 95.81 L445.73 94.70 L446.19 93.59 L446.64 92.49 L447.09 91.38 L447.55 90.28 L448.00 89.17 L448.46 88.07 L448.91 86.96 L449.37 85.86 L449.84 84.76 L450.32 83.67 L450.82 82.58 L451.32 81.50 L451.85 80.42 L452.40 79.35 L452.97 78.29 L453.57 77.24 L454.19 76.20 L454.85 75.17 L455.55 74.16 L456.28 73.16 L457.06 72.18 L457.87 71.21 L458.73 70.28 L459.64 69.41 L460.58 68.66 L461.56 68.05 L462.58 67.63 L463.64 67.43 L464.73 67.49 L465.81 67.79 L466.85 68.28 L467.80 68.92 L468.65 69.69 L469.41 70.57 L470.09 71.54 L470.69 72.60 L471.23 73.73 L471.71 74.92 L472.14 76.15 L472.54 77.41 L472.89 78.69 L473.23 79.98 L473.55 81.26 L473.86 82.51 L474.17 83.74 L474.49 84.93 L474.80 86.09 L475.11 87.23 L475.41 88.36 L475.71 89.49 L476.00 90.61 L476.28 91.74 L476.56 92.87 L476.82 94.01 L477.08 95.15 L477.33 96.29 L477.57 97.44 L477.81 98.59 L478.03 99.75 L478.26 100.91 L478.47 102.07 L478.68 103.24 L478.88 104.41 L479.08 105.58 L479.27 106.76 L479.46 107.94 L479.64 109.12 L479.82 110.30 L480.00 111.48 L480.17 112.67 L480.34 113.85 L480.50 115.04 L480.66 116.23 L480.82 117.42 L480.98 118.61 L481.13 119.80 L481.29 120.99 L481.44 122.18 L481.59 123.37 L481.74 124.57 L481.89 125.76 L482.04 126.95 L482.18 128.14 L482.33 129.33 L482.47 130.52 L482.61 131.72 L482.76 132.91 L482.90 134.10 L483.04 135.29 L483.17 136.48 L483.31 137.68 L483.44 138.87 L483.58 140.06 L483.71 141.25 L483.84 142.45 L483.97 143.64 L484.10 144.83 L484.23 146.02 L484.36 147.22 L484.49 148.41 L484.61 149.60 L484.74 150.80 L484.86 151.99 L484.98 153.18 L485.10 154.37 L485.22 155.57 L485.34 156.76 L485.46 157.95 L485.58 159.15 L485.69 160.34 L485.81 161.54 L485.92 162.73 L486.04 163.92 L486.15 165.12 L486.26 166.31 L486.37 167.50 L486.48 168.70 L486.59 169.89 L486.69 171.09 L486.80 172.28 L486.91 173.47 L487.01 174.67 L487.11 175.86 L487.22 177.06 L487.32 178.25 L487.42 179.45 L487.52 180.64 L487.62 181.84 L487.72 183.03 L487.82 184.22 L487.91 185.42 L488.01 186.61 L488.10 187.81 L488.20 189.00 L488.29 190.20 L488.39 191.39 L488.48 192.59 L488.57 193.78 L488.66 194.98 L488.75 196.17 L488.84 197.37 L488.93 198.57 L489.02 199.76 L489.10 200.96 L489.19 202.15 L489.27 203.35 L489.36 204.54 L489.44 205.74 L489.53 206.93 L489.61 208.13 L489.69 209.33 L489.78 210.52 L489.86 211.72 L489.94 212.91 L490.02 214.11 L490.10 215.31 L490.18 216.50 L490.25 217.70 L490.33 218.90 L490.41 220.09 L490.48 221.29 L490.56 222.48 L490.64 223.68 L490.71 224.88 L490.79 226.07 L490.86 227.27 L490.93 228.47 L491.01 229.66 L491.08 230.86 L491.15 232.06 L491.22 233.25 L491.29 234.45 L491.36 235.65 L491.43 236.84 L491.50 238.04 L491.57 239.24 L491.64 240.44 L491.71 241.63 L491.78 242.83 L491.84 244.03 L491.91 245.22 L491.98 246.42 L492.04 247.62 L492.11 248.82 L492.18 250.01 L492.24 251.21 L492.31 252.41 L492.37 253.61 L492.44 254.80 L492.50 256.00 L492.56 257.20 L492.63 258.40 L492.69 259.60 L492.75 260.79 L492.82 261.99 L492.88 263.19 L492.94 264.39 L493.00 265.58 L493.07 266.78 L493.13 267.98 L493.19 269.18 L493.25 270.38 L493.31 271.57 L493.37 272.77 L493.43 273.97 L493.49 275.17 L493.55 276.37 L493.61 277.57 L493.67 278.76 L493.73 279.96 L493.79 281.16 L493.85 282.36 L493.91 283.56 L493.97 284.76 L494.03 285.95 L494.09 287.15 L494.15 288.35 L494.21 289.55 L494.27 290.75 L494.33 291.95 L494.39 293.15 L494.45 294.34 L494.51 295.54 L494.57 296.74 L494.63 297.94 L494.69 299.14 L494.74 300.34 L494.80 301.54 L494.86 302.74 L494.92 303.94 L494.98 305.13 L495.04 306.33 L495.10 307.53 L495.16 308.73 L495.22 309.93 L495.28 311.13 L495.34 312.33 L495.40 313.53 L495.46 314.73 L495.52 315.93 L495.58 317.13 L495.64 318.32 L495.70 319.52 L495.76 320.72 L495.82 321.92 L495.89 323.12 L495.95 324.32 L496.01 325.52 L496.07 326.72 L496.13 327.92 L496.20 329.12 L496.26 330.32 L496.32 331.52 L496.38 332.72 L496.45 333.92 L496.51 335.12 L496.58 336.31 L496.64 337.51 L496.70 338.71 L496.77 339.91 L496.84 341.11 L496.90 342.31 L496.97 343.51" stroke="#000000" stroke-width="2.7" fill="none" stroke-linejoin="round" stroke-linecap="butt"/>
<rect x="62.5" y="19.5" width="238" height="78.2" fill="#fff"/>
<path d="M62 19.5 L301 19.5 M62 97.7 L301 97.7" stroke="#b0b0b0" stroke-width="1.2" fill="none"/>
<path d="M62.5 19.5 L62.5 97.7 M300.5 19.5 L300.5 97.7" stroke="#707070" stroke-width="1" fill="none"/>
<line x1="71.5" y1="33.3" x2="114" y2="33.3" stroke="#ff0000" stroke-width="2.7"/>
<line x1="71.5" y1="58.3" x2="114" y2="58.3" stroke="#0000ff" stroke-width="2.7"/>
<line x1="71.5" y1="82.8" x2="114" y2="82.8" stroke="#000000" stroke-width="2.7"/>
<text transform="translate(118,40.7) scale(0.937,1)" font-size="17.0">Full power</text>
<text transform="translate(118,65.1) scale(0.937,1)" font-size="17.0">Partial Power</text>
<text transform="translate(118,89.3) scale(0.937,1)" font-size="17.0">Improved Partial power</text>
<text transform="translate(60.65,437.8) scale(0.92,1)" font-size="16.8" text-anchor="middle">0</text>
<text transform="translate(127.40,437.8) scale(0.92,1)" font-size="16.8" text-anchor="middle">0.05</text>
<text transform="translate(193.30,437.8) scale(0.92,1)" font-size="16.8" text-anchor="middle">0.1</text>
<text transform="translate(260.00,437.8) scale(0.92,1)" font-size="16.8" text-anchor="middle">0.15</text>
<text transform="translate(326.10,437.8) scale(0.92,1)" font-size="16.8" text-anchor="middle">0.2</text>
<text transform="translate(392.00,437.8) scale(0.92,1)" font-size="16.8" text-anchor="middle">0.25</text>
<text transform="translate(459.20,437.8) scale(0.92,1)" font-size="16.8" text-anchor="middle">0.3</text>
<text transform="translate(525.90,437.8) scale(0.92,1)" font-size="16.8" text-anchor="middle">0.35</text>
<text transform="translate(56.2,423.00) scale(0.92,1)" font-size="16.8" text-anchor="end">50</text>
<text transform="translate(56.2,378.56) scale(0.92,1)" font-size="16.8" text-anchor="end">100</text>
<text transform="translate(56.2,334.11) scale(0.92,1)" font-size="16.8" text-anchor="end">150</text>
<text transform="translate(56.2,289.67) scale(0.92,1)" font-size="16.8" text-anchor="end">200</text>
<text transform="translate(56.2,245.22) scale(0.92,1)" font-size="16.8" text-anchor="end">250</text>
<text transform="translate(56.2,200.78) scale(0.92,1)" font-size="16.8" text-anchor="end">300</text>
<text transform="translate(56.2,156.33) scale(0.92,1)" font-size="16.8" text-anchor="end">350</text>
<text transform="translate(56.2,111.89) scale(0.92,1)" font-size="16.8" text-anchor="end">400</text>
<text transform="translate(56.2,67.44) scale(0.92,1)" font-size="16.8" text-anchor="end">450</text>
<text transform="translate(56.2,23.00) scale(0.92,1)" font-size="16.8" text-anchor="end">500</text>
<text transform="translate(248.9,460.7) scale(0.918,1)" font-size="18.4" font-style="italic" style="stroke-width:0.2px">Duty Cycle</text>
<text transform="translate(21.0,285.2) rotate(-90) scale(0.934,1)" font-size="20.2" font-style="italic" style="stroke-width:0.2px">Output Voltage</text>
</svg></body></html>
